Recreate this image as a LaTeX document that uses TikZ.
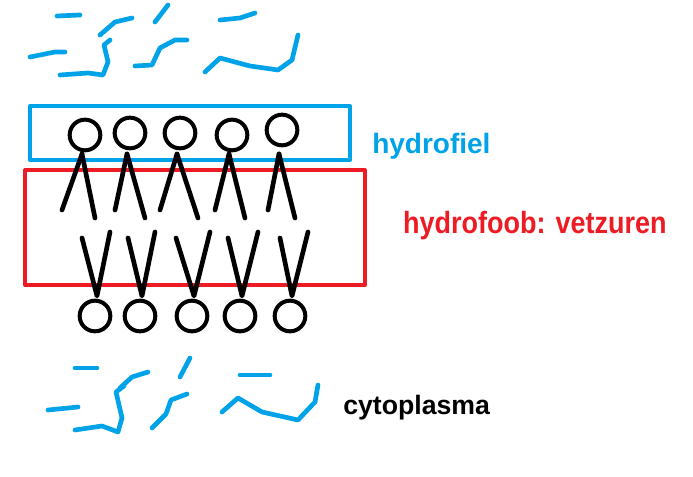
\documentclass[tikz,border=0pt]{standalone}
\usepackage{fontspec}
\setmainfont{Liberation Sans}
\begin{document}
\begin{tikzpicture}[x=0.75pt,y=-0.75pt,line cap=round,line join=round,
  w/.style={draw={rgb,255:red,0;green,162;blue,232},line width=3.5pt},
  k/.style={draw=black,line width=3.5pt},
  h/.style={circle,draw=black,line width=3pt,minimum size=23pt,inner sep=0pt}]
\useasboundingbox (0,0) rectangle (693,477);
\fill[white] (0,0) rectangle (693,477);
% membrane boxes
\draw[draw={rgb,255:red,0;green,162;blue,232},line width=3pt] (30,106) rectangle (350,160);
\draw[draw={rgb,255:red,237;green,28;blue,36},line width=3pt] (25,170) rectangle (365,285);
% top heads and tails
\foreach \x/\y/\a/\b in {85/135/62/95, 130/133/115/145, 180/133/160/198, 232/135/215/245, 282/130/268/295}{
  \node[h] (t\x) at (\x,\y) {};
  \draw[k] (\x-3,154) -- (\a,210);
  \draw[k] (\x-3,154) -- (\b,218);
}
% bottom tails and heads
\foreach \x/\a/\b in {95/82/110, 140/128/155, 192/176/210, 240/228/258, 290/280/308}{
  \node[h] (b\x) at (\x,316) {};
  \draw[k] (\a,238) -- (\x+2,296) -- (\b,232);
}
% water top
\draw[w] (57,16)--(80,15);
\draw[w] (30,57)--(55,52)--(65,52);
\draw[w] (60,75)--(88,73)--(103,75)--(108,62)--(104,45)--(110,40);
\draw[w] (100,35)--(115,22)--(132,18);
\draw[w] (155,22)--(168,5);
\draw[w] (135,66)--(152,65)--(160,48)--(175,40)--(187,40);
\draw[w] (220,20)--(240,18)--(255,13);
\draw[w] (205,72)--(220,58)--(250,66)--(278,70)--(292,60)--(298,35);
% water bottom
\draw[w] (75,368)--(97,368);
\draw[w] (120,388)--(132,377)--(148,372);
\draw[w] (180,377)--(190,358);
\draw[w] (240,375)--(270,375);
\draw[w] (48,410)--(78,407);
\draw[w] (75,430)--(102,426)--(118,432)--(122,418)--(116,392)--(124,386);
\draw[w] (152,428)--(166,414)--(171,400)--(187,394);
\draw[w] (222,412)--(238,398)--(262,412)--(298,420)--(315,402)--(318,385);
% labels
\node[font=\bfseries\fontsize{21}{21}\selectfont,text={rgb,255:red,0;green,162;blue,232},anchor=west,inner sep=0pt] (l1) at (372,146) {hydrofiel};
\node[font=\bfseries\fontsize{23}{23}\selectfont,text={rgb,255:red,237;green,28;blue,36},anchor=west,xscale=0.88,inner sep=0pt] (l2) at (403,226) {hydrofoob: vetzuren};
\node[font=\bfseries\fontsize{20}{20}\selectfont,anchor=west,inner sep=0pt] (l3) at (343,408) {cytoplasma};
\end{tikzpicture}
\end{document}
